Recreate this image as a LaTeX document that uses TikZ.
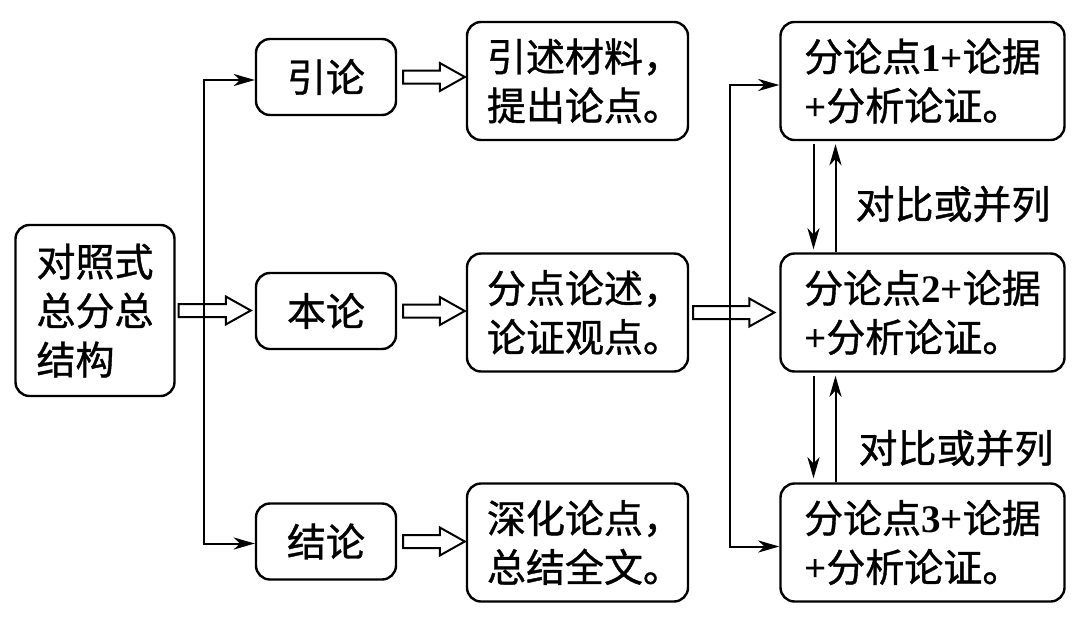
\documentclass[tikz,border=0pt]{standalone}
\usepackage{fontspec}
\usetikzlibrary{arrows.meta,calc}
\newfontfamily\cjk{Noto Sans CJK SC}[FakeBold=1]
\newfontfamily\lat{Liberation Serif}
\newcommand\ltn[1]{{\lat\bfseries #1}}
\newcommand\hollowarrow[2]{%
  \draw[hollow] let \p1=(#1), \p2=(#2) in
    (\x1,\y1+6.5pt) -- (\x2-25pt,\y1+6.5pt) -- (\x2-25pt,\y1+14pt) -- (\x2,\y1)
    -- (\x2-25pt,\y1-14pt) -- (\x2-25pt,\y1-6.5pt) -- (\x1,\y1-6.5pt) -- cycle;}
\tikzset{
  sk/.tip={Stealth[length=21pt,width=12pt,inset=6pt]},
  box/.style={draw, line width=2.4pt, rounded corners=14pt, inner sep=0pt, align=left,
    font=\cjk\fontsize{39}{49}\selectfont},
  cbox/.style={box, text width=181pt, inner xsep=20pt, minimum height=118pt},
  dbox/.style={box, minimum width=284pt, minimum height=118pt},
  bbox/.style={box, minimum width=140pt, minimum height=76pt},
  conn/.style={line width=2pt},
  hollow/.style={draw, line width=2pt, line join=miter},
  lbl/.style={font=\cjk\fontsize{39}{49}\selectfont, inner sep=0pt}
}
\begin{document}
\begin{tikzpicture}[x=1pt,y=-1pt]
\useasboundingbox (0,0) rectangle (1080,627);
\node[box, minimum width=159pt, minimum height=171pt] (A) at (95,310.5) {对照式\\总分总\\结构};
\node[bbox] (B1) at (326,77) {引论};
\node[bbox] (B2) at (326,311) {本论};
\node[bbox] (B3) at (326,541.5) {结论};
\node[cbox] (C1) at (577.5,81) {引述材料，\\提出论点。};
\node[cbox] (C2) at (577.5,312.5) {分点论述，\\论证观点。};
\node[cbox] (C3) at (577.5,542.5) {深化论点，\\总结全文。};
\node[dbox] (D1) at (922.5,81) {分论点\ltn{1+}论据\\\ltn{+}分析论证。};
\node[dbox] (D2) at (922.5,312.5) {分论点\ltn{2+}论据\\\ltn{+}分析论证。};
\node[dbox] (D3) at (922.5,542.5) {分论点\ltn{3+}论据\\\ltn{+}分析论证。};
\node[lbl] (L1) at (953,204) {对比或并列};
\node[lbl] (L2) at (956,448) {对比或并列};
% thin connectors
\draw[conn, sk-sk] ([yshift=-3pt]B1.west) -- ++(-51,0) |- ([yshift=-2pt]B3.west);
\draw[conn, sk-sk] ([yshift=-4pt]D1.west) -- ++(-49,0) |- ([yshift=-4pt]D3.west);
\draw[conn, -sk, shorten <=3pt, shorten >=3pt] ([xshift=-109pt]D1.south) -- ([xshift=-109pt]D2.north);
\draw[conn, -sk, shorten >=3pt] ([xshift=-87pt]D2.north) -- ([xshift=-87pt]D1.south);
\draw[conn, -sk, shorten <=3pt, shorten >=4pt] ([xshift=-109pt]D2.south) -- ([xshift=-109pt]D3.north);
\draw[conn, -sk, shorten >=3pt] ([xshift=-87pt]D3.north) -- ([xshift=-87pt]D2.south);
% hollow arrows
\hollowarrow{[xshift=3pt]A.east}{[xshift=-4pt]B2.west}
\hollowarrow{[xshift=6pt]B1.east}{[xshift=-1pt]C1.west}
\hollowarrow{[xshift=6pt]B2.east}{[xshift=-1pt]C2.west}
\hollowarrow{[xshift=6pt]B3.east}{[xshift=-1pt]C3.west}
\hollowarrow{[xshift=4pt]C2.east}{[xshift=-5pt]D2.west}
\end{tikzpicture}
\end{document}
